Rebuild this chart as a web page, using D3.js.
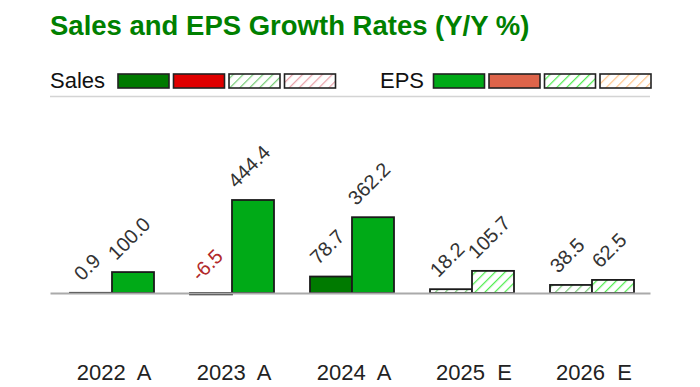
<!DOCTYPE html>
<html>
<head>
<meta charset="utf-8">
<script src="https://cdn.jsdelivr.net/npm/d3@7"></script>
<style>
  body { margin: 0; background: #fff; }
  text { font-family: "Liberation Sans", Arial, sans-serif; }
</style>
</head>
<body>
<div id="chart"></div>
<script>
// data
const years = ["2022", "2023", "2024", "2025", "2026"];
const periodType = ["A", "A", "A", "E", "E"];
const salesGrowth = [0.9, -6.5, 78.7, 18.2, 38.5];
const epsGrowth = [100.0, 444.4, 362.2, 105.7, 62.5];
const seriesKeys = ["sales", "eps"];

const width = 700, height = 387;

// fills: [actual positive, actual negative, estimate positive, estimate negative]
const fills = {
  sales: ["#007a00", "#e00000", "url(#hatch-sales-pos)", "url(#hatch-sales-neg)"],
  eps: ["#00aa17", "#dd644a", "url(#hatch-eps-pos)", "url(#hatch-eps-neg)"]
};
const hatchColors = {
  "hatch-sales-pos": "#77cc77",
  "hatch-sales-neg": "#e8a0a8",
  "hatch-eps-pos": "#55ee55",
  "hatch-eps-neg": "#ffc488"
};

const data = years.map(function (yr, i) {
  return { year: yr, type: periodType[i], sales: salesGrowth[i], eps: epsGrowth[i] };
});

const svg = d3.select("#chart").append("svg")
    .attr("width", width)
    .attr("height", height);

// hatch patterns
const defs = svg.append("defs");
Object.keys(hatchColors).forEach(function (id) {
  const p = defs.append("pattern")
      .attr("id", id)
      .attr("patternUnits", "userSpaceOnUse")
      .attr("width", 7)
      .attr("height", 7)
      .attr("patternTransform", "rotate(45)");
  p.append("rect").attr("width", 7).attr("height", 7).attr("fill", "#fff");
  p.append("line")
      .attr("x1", 0).attr("y1", 0).attr("x2", 0).attr("y2", 7)
      .attr("stroke", hatchColors[id])
      .attr("stroke-width", 2.5);
});

// title
svg.append("text")
    .attr("x", 50)
    .attr("y", 35)
    .attr("font-size", 27.5)
    .attr("font-weight", "bold")
    .attr("fill", "#008000")
    .text("Sales and EPS Growth Rates (Y/Y %)");

// legend
const legendGroups = [
  { label: "Sales", x: 50, boxX: 118, key: "sales" },
  { label: "EPS", x: 380, boxX: 433.5, key: "eps" }
];
legendGroups.forEach(function (lg) {
  svg.append("text")
      .attr("x", lg.x)
      .attr("y", 88)
      .attr("font-size", 22)
      .attr("fill", "#111")
      .text(lg.label);
  svg.selectAll(".lg-" + lg.key)
      .data(fills[lg.key])
      .enter().append("rect")
      .attr("x", function (d, i) { return lg.boxX + i * 55.5; })
      .attr("y", 74)
      .attr("width", 51)
      .attr("height", 14)
      .attr("fill", function (d) { return d; })
      .attr("stroke", "#222")
      .attr("stroke-width", 1.6);
});
svg.append("line")
    .attr("x1", 50).attr("x2", 650)
    .attr("y1", 96.5).attr("y2", 96.5)
    .attr("stroke", "#d4d4d4")
    .attr("stroke-width", 1.5);

// scales
const x0 = d3.scaleBand().domain(years).range([50, 650]);
const x1 = d3.scaleBand().domain(seriesKeys).range([20, 104]);
const y = d3.scaleLinear()
    .domain([0, d3.max(epsGrowth)])
    .range([293, 200]);

function fillFor(key, d) {
  const idx = (d.type === "E" ? 2 : 0) + (d[key] < 0 ? 1 : 0);
  return fills[key][idx];
}

const groups = svg.append("g")
  .selectAll("g")
  .data(data)
  .enter().append("g")
    .attr("transform", function (d) { return "translate(" + x0(d.year) + ",0)"; });

const cells = groups.selectAll("g")
  .data(function (d) {
    return seriesKeys.map(function (k) { return { key: k, value: d[k], row: d }; });
  })
  .enter().append("g");

cells.append("rect")
    .attr("x", function (d) { return x1(d.key); })
    .attr("y", function (d) { return Math.min(y(d.value), y(0)); })
    .attr("width", x1.bandwidth())
    .attr("height", function (d) { return Math.abs(y(d.value) - y(0)); })
    .attr("fill", function (d) { return fillFor(d.key, d.row); })
    .attr("stroke", "#1a1a1a")
    .attr("stroke-width", 1.8);

// rotated value labels, bottom of label sits just above the bar
cells.append("text")
    .attr("font-size", 20)
    .attr("text-anchor", "middle")
    .attr("fill", function (d) { return d.value < 0 ? "#b22a2a" : "#333"; })
    .text(function (d) { return d.value.toFixed(1); })
    .attr("transform", function (d) {
      const len = this.getComputedTextLength();
      const cx = x1(d.key) + x1.bandwidth() / 2 + 1;
      const top = Math.min(y(d.value), y(0)) - 11 - len * 0.354;
      return "translate(" + cx + "," + top + ") rotate(-45)";
    });

// zero line + category labels
const xAxis = d3.axisBottom(x0)
    .tickSize(0)
    .tickSizeOuter(0)
    .tickPadding(71)
    .tickFormat(function (d, i) { return d + "  " + periodType[i]; });

const gx = svg.append("g")
    .attr("transform", "translate(0," + y(0) + ")")
    .call(xAxis);
gx.select(".domain")
    .attr("stroke", "#aaa")
    .attr("stroke-width", 2);
gx.selectAll(".tick text")
    .attr("font-size", 22)
    .attr("font-family", "'Liberation Sans', Arial, sans-serif")
    .attr("fill", "#222")
    .attr("dx", 4)
    .style("white-space", "pre");
</script>
</body>
</html>
